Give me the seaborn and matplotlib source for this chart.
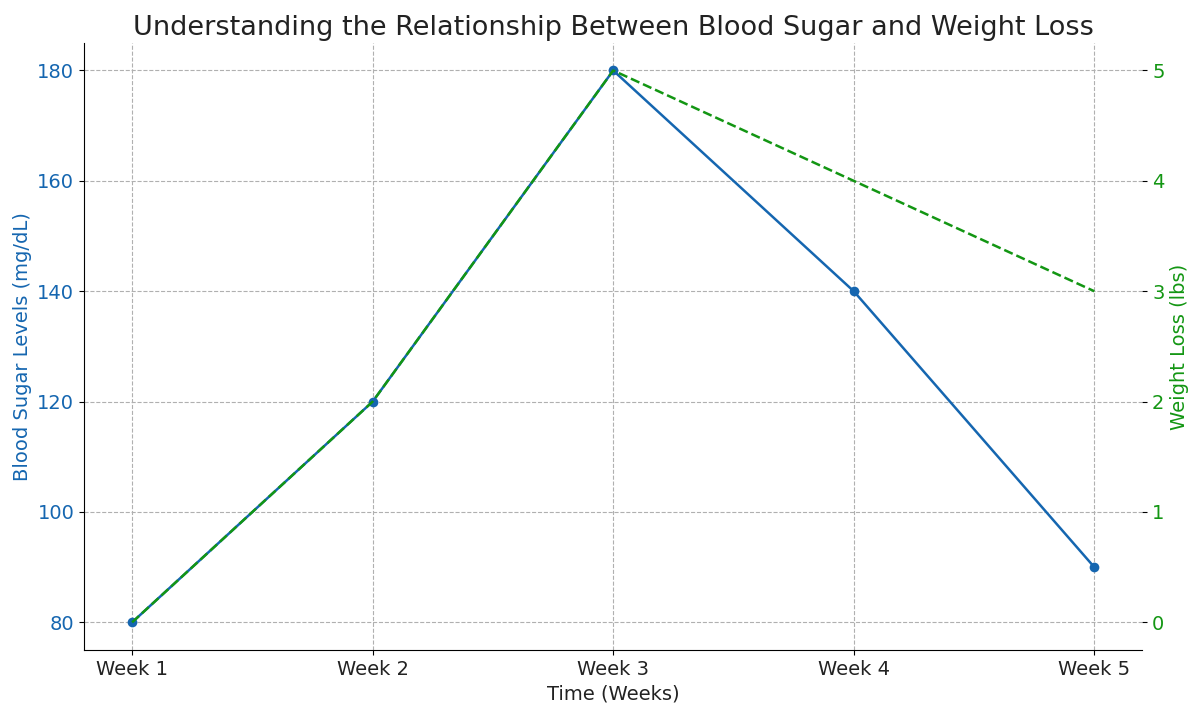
import pandas as pd
import seaborn as sns
import matplotlib.pyplot as plt

weeks = ['Week 1', 'Week 2', 'Week 3', 'Week 4', 'Week 5']
blood_sugar = [80, 120, 180, 140, 90]
weight_loss = [0, 2, 5, 4, 3]

BLUE = '#1566b0'
GREEN = '#139613'

df = pd.DataFrame({'week': weeks, 'sugar': blood_sugar, 'loss': weight_loss})

fig = plt.figure(figsize=(12, 7.15), dpi=100)
ax1 = fig.add_axes([0.07, 0.091, 0.882, 0.849])

# blood sugar on the left axis
sns.lineplot(data=df, x='week', y='sugar', ax=ax1, color=BLUE, marker='o',
             markersize=7, markeredgewidth=0, linewidth=1.8, sort=False)
ax1.set_xlabel('Time (Weeks)', fontsize=14, color='#222222')
ax1.set_ylabel('Blood Sugar Levels (mg/dL)', fontsize=14, color=BLUE)
ax1.tick_params(axis='y', labelcolor=BLUE, labelsize=14)
ax1.tick_params(axis='x', labelsize=14, labelcolor='#222222')
ax1.set_ylim(75, 185)
ax1.grid(True, linestyle='--', color='#b0b0b0', linewidth=0.8)
ax1.spines['top'].set_visible(False)
ax1.spines['right'].set_visible(False)

# weight loss on the right axis
ax2 = ax1.twinx()
sns.lineplot(data=df, x='week', y='loss', ax=ax2, color=GREEN, linestyle='--',
             linewidth=1.8, sort=False)
ax2.set_ylabel('Weight Loss (lbs)', fontsize=14, color=GREEN)
ax2.tick_params(axis='y', labelcolor=GREEN, labelsize=14)
ax2.set_ylim(-0.25, 5.25)
for s in ['top', 'right', 'left', 'bottom']:
    ax2.spines[s].set_visible(False)

ax1.set_title('Understanding the Relationship Between Blood Sugar and Weight Loss',
              fontsize=19.5, color='#222222')

plt.savefig('out.png', dpi=100)
